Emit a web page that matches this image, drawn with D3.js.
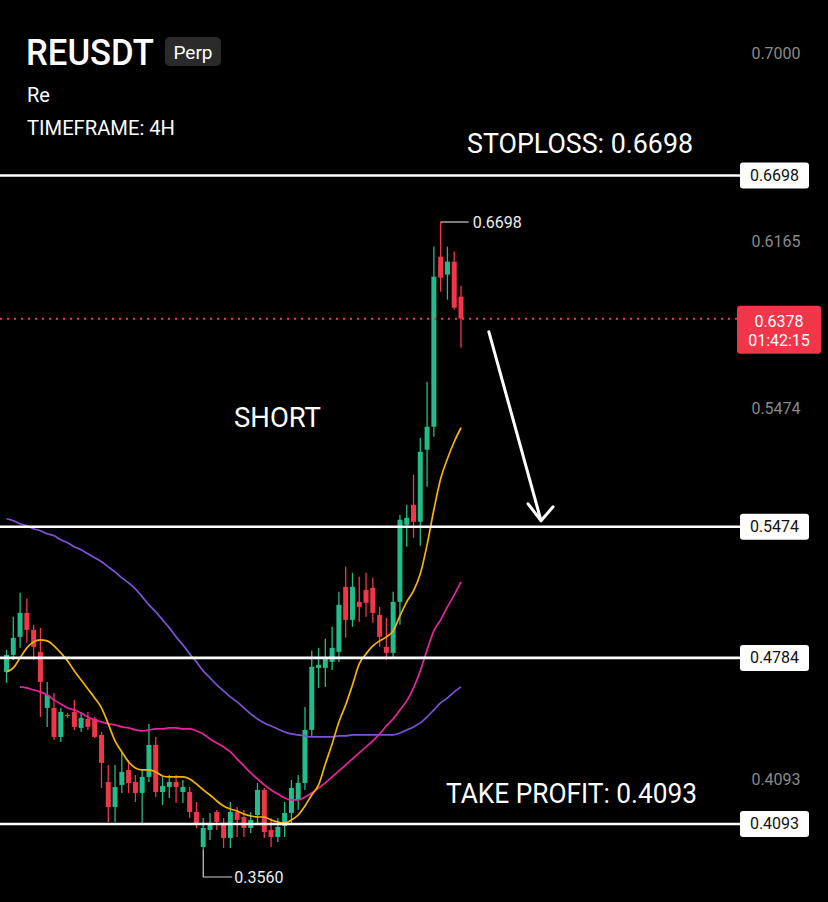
<!DOCTYPE html>
<html>
<head>
<meta charset="utf-8">
<script src="https://cdn.jsdelivr.net/npm/d3@7"></script>
<style>
  body { margin: 0; background: #000; }
  svg { display: block; font-family: Roboto, "DejaVu Sans", sans-serif; }
</style>
</head>
<body>
<svg></svg>
<script>
// candles, 4H
const opens = [0.445,0.4535,0.4625,0.4745,0.466,0.455,0.427,0.427,0.4125,0.4235,
  0.425,0.417,0.4215,0.4215,0.4135,0.39,0.3775,0.3885,0.396,0.39,
  0.3845,0.3925,0.4085,0.385,0.3875,0.39,0.385,0.385,0.375,0.3575,
  0.366,0.375,0.3685,0.362,0.375,0.3725,0.367,0.3735,0.386,0.366,
  0.3625,0.368,0.3745,0.381,0.3895,0.416,0.447,0.447,0.45,0.455,
  0.4875,0.471,0.48,0.486,0.487,0.4735,0.4575,0.4545,0.48,0.5185,
  0.5285,0.52,0.556,0.5675,0.6525,0.6435,0.65,0.6325];
const highs = [0.456,0.4725,0.4845,0.4815,0.4685,0.467,0.44,0.4345,0.427,0.4245,
  0.431,0.425,0.425,0.4225,0.415,0.3985,0.3985,0.405,0.401,0.3935,
  0.396,0.419,0.4125,0.3925,0.3935,0.3935,0.391,0.3875,0.38,0.372,
  0.3745,0.376,0.372,0.38,0.3775,0.376,0.375,0.3895,0.387,0.372,
  0.372,0.38,0.391,0.3935,0.4275,0.4555,0.457,0.4615,0.4675,0.485,
  0.4975,0.4945,0.4925,0.4945,0.492,0.4775,0.472,0.485,0.5235,0.5285,
  0.5435,0.562,0.59,0.6575,0.6698,0.6575,0.655,0.638];
const lows = [0.4395,0.451,0.457,0.4595,0.451,0.4225,0.4175,0.411,0.41,0.422,
  0.416,0.415,0.416,0.412,0.387,0.37,0.37,0.3845,0.3845,0.38,
  0.3695,0.39,0.3825,0.3785,0.382,0.3795,0.3795,0.372,0.367,0.356,
  0.361,0.366,0.357,0.357,0.3625,0.3625,0.3645,0.3685,0.362,0.3575,
  0.36,0.3625,0.3695,0.376,0.386,0.4125,0.437,0.4375,0.446,0.45,
  0.462,0.4675,0.47,0.4725,0.4695,0.4575,0.451,0.4525,0.4685,0.5075,
  0.512,0.508,0.5375,0.5625,0.635,0.631,0.626,0.607];
const closes = [0.4535,0.462,0.4745,0.466,0.4575,0.44,0.4335,0.4125,0.425,0.423,
  0.4175,0.422,0.4175,0.4125,0.3995,0.3775,0.3875,0.395,0.3895,0.3845,
  0.3925,0.4085,0.385,0.388,0.39,0.3875,0.3875,0.375,0.3695,0.367,
  0.3695,0.37,0.362,0.375,0.371,0.367,0.371,0.386,0.365,0.3625,
  0.3675,0.3745,0.387,0.3895,0.416,0.4475,0.4485,0.452,0.457,0.4785,
  0.471,0.4875,0.4775,0.4795,0.4745,0.4625,0.4545,0.48,0.521,0.522,
  0.52,0.555,0.5675,0.6425,0.642,0.65,0.627,0.6215];

// moving averages as drawn (one value per candle)
const maFast = [0.445,0.447,0.452,0.457,0.46,0.461,0.4605,0.458,0.4545,0.4505,
  0.4455,0.441,0.4365,0.432,0.427,0.419,0.4105,0.405,0.4,0.397,
  0.396,0.396,0.395,0.393,0.3925,0.3925,0.3925,0.3915,0.389,0.386,
  0.3835,0.3805,0.378,0.3765,0.3755,0.374,0.373,0.3725,0.3725,0.371,
  0.37,0.3695,0.371,0.3735,0.378,0.3835,0.3885,0.399,0.409,0.42,
  0.4285,0.4385,0.449,0.454,0.458,0.4605,0.4625,0.4655,0.473,0.48,
  0.4855,0.494,0.5085,0.526,0.5415,0.5515,0.56,0.567];
const maMid = [null,null,0.4375,0.437,0.436,0.435,0.4335,0.431,0.429,0.427,
  0.426,0.4245,0.4225,0.421,0.42,0.419,0.4185,0.4175,0.417,0.416,
  0.4155,0.416,0.4165,0.4165,0.417,0.417,0.4165,0.4165,0.4155,0.414,
  0.4115,0.4095,0.4075,0.405,0.4015,0.398,0.3945,0.3915,0.3885,0.386,
  0.384,0.382,0.381,0.381,0.3825,0.3845,0.387,0.3895,0.3925,0.3955,
  0.3985,0.4015,0.4045,0.4075,0.4105,0.414,0.418,0.4215,0.426,0.4305,
  0.437,0.4455,0.456,0.4655,0.471,0.4775,0.4835,0.49];
const maSlow = [0.5215,0.5205,0.519,0.518,0.5165,0.5155,0.514,0.513,0.511,0.5095,
  0.5075,0.506,0.504,0.502,0.5,0.4975,0.495,0.492,0.4895,0.4865,
  0.4825,0.4785,0.475,0.471,0.467,0.4625,0.4585,0.454,0.45,0.4455,
  0.442,0.4385,0.4355,0.4325,0.43,0.427,0.424,0.4215,0.4195,0.418,
  0.4165,0.415,0.414,0.4135,0.413,0.4125,0.4125,0.4125,0.4125,0.413,
  0.413,0.4135,0.4135,0.4135,0.4135,0.4135,0.4135,0.4135,0.4145,0.416,
  0.4175,0.4195,0.4225,0.426,0.4295,0.432,0.435,0.4375];

// drawn levels (where the lines sit) and the text written on them
const levelValues = [0.693, 0.5175, 0.452, 0.369];
const levelLabels = ["0.6698", "0.5474", "0.4784", "0.4093"];
// price axis labels
const axisValues = [0.754, 0.6605, 0.577, 0.3915];
const axisLabels = ["0.7000", "0.6165", "0.5474", "0.4093"];
const lastLabels = ["0.6378", "01:42:15"];
const highText = "0.6698";
const lowText = "0.3560";
// arrow, [candle index, price]
const arrowFrom = [71.1, 0.615];
const arrowTo = [78.8, 0.5205];

const W = 828, H = 902;
const green = "#22bb8b", red = "#f2364a";

const svg = d3.select("svg").attr("width", W).attr("height", H);
svg.append("rect").attr("width", W).attr("height", H).attr("fill", "#000");

const x = d3.scaleLinear().domain([0, opens.length - 1]).range([6.5, 461]);
const y = d3.scaleLinear().domain([0.356, 0.6698]).range([850, 222]);

const candles = opens.map((o, i) => ({ i: i, o: o, h: highs[i], l: lows[i], c: closes[i] }));

// candles
const cg = svg.append("g").attr("class", "candles");
const candle = cg.selectAll("g").data(candles).enter().append("g");
candle.append("line")
  .attr("x1", d => x(d.i)).attr("x2", d => x(d.i))
  .attr("y1", d => y(d.h)).attr("y2", d => y(d.l))
  .attr("stroke", d => d.c >= d.o ? green : red)
  .attr("stroke-width", 1.3);
candle.append("rect")
  .attr("x", d => x(d.i) - 2.5)
  .attr("width", 5)
  .attr("y", d => y(Math.max(d.o, d.c)))
  .attr("height", d => Math.max(1.2, Math.abs(y(d.o) - y(d.c))))
  .attr("fill", d => d.c >= d.o ? green : red);

// moving averages
const maLine = d3.line()
  .defined(d => d != null)
  .x((d, i) => x(i))
  .y(d => y(d))
  .curve(d3.curveMonotoneX);
[[maSlow, "#7e52d8"], [maMid, "#e8239f"], [maFast, "#f6b400"]].forEach(m => {
  svg.append("path")
    .attr("d", maLine(m[0]))
    .attr("fill", "none")
    .attr("stroke", m[1])
    .attr("stroke-width", 1.7);
});

// last price dotted line
const last = closes[closes.length - 1];
svg.append("line")
  .attr("x1", 0).attr("x2", 737)
  .attr("y1", y(last)).attr("y2", y(last))
  .attr("stroke", red).attr("stroke-width", 2)
  .attr("stroke-dasharray", "2,5");

// horizontal levels
const lv = svg.append("g").selectAll("g").data(levelValues).enter().append("g");
lv.append("line")
  .attr("x1", 0).attr("x2", 741)
  .attr("y1", d => y(d)).attr("y2", d => y(d))
  .attr("stroke", "#fff").attr("stroke-width", 2.6);
lv.append("rect")
  .attr("x", 740).attr("y", d => y(d) - 13)
  .attr("width", 69).attr("height", 26).attr("rx", 3)
  .attr("fill", "#fff");
lv.append("text")
  .attr("x", 774.5).attr("y", d => y(d) + 5.5)
  .attr("text-anchor", "middle")
  .attr("font-size", 16).attr("fill", "#111")
  .text((d, i) => levelLabels[i]);

// axis labels
svg.append("g").selectAll("text").data(axisValues).enter().append("text")
  .attr("x", 776).attr("y", d => y(d) + 6)
  .attr("text-anchor", "middle")
  .attr("font-size", 16).attr("fill", "#8a8a8a")
  .text((d, i) => axisLabels[i]);

// last price box
svg.append("rect")
  .attr("x", 737).attr("y", y(last) - 13)
  .attr("width", 84).attr("height", 48).attr("rx", 3)
  .attr("fill", red);
lastLabels.forEach((t, i) => {
  svg.append("text")
    .attr("x", 779).attr("y", y(last) + 8 + i * 19)
    .attr("text-anchor", "middle")
    .attr("font-size", 16).attr("fill", "#fff")
    .text(t);
});

// high / low markers
const hi = d3.maxIndex(highs), lo = d3.minIndex(lows);
svg.append("path")
  .attr("d", `M${x(hi)},${y(highs[hi])}H${x(hi) + 28}`)
  .attr("stroke", "#cfcfcf").attr("stroke-width", 1.2).attr("fill", "none");
svg.append("text")
  .attr("x", x(hi) + 32).attr("y", y(highs[hi]) + 6)
  .attr("font-size", 16).attr("fill", "#eee").text(highText);
svg.append("path")
  .attr("d", `M${x(lo)},${y(lows[lo])}V${y(lows[lo]) + 27}H${x(lo) + 29}`)
  .attr("stroke", "#cfcfcf").attr("stroke-width", 1.2).attr("fill", "none");
svg.append("text")
  .attr("x", x(lo) + 31).attr("y", y(lows[lo]) + 33)
  .attr("font-size", 16).attr("fill", "#eee").text(lowText);

// arrow
const ax1 = x(arrowFrom[0]), ay1 = y(arrowFrom[1]);
const ax2 = x(arrowTo[0]), ay2 = y(arrowTo[1]);
svg.append("path")
  .attr("d", `M${ax1},${ay1}L${ax2},${ay2}M${ax2 - 13},${ay2 - 17}L${ax2},${ay2}L${ax2 + 12},${ay2 - 14}`)
  .attr("stroke", "#fff").attr("stroke-width", 3)
  .attr("stroke-linecap", "round").attr("stroke-linejoin", "round")
  .attr("fill", "none");

// header
svg.append("text").attr("x", 26).attr("y", 65)
  .attr("font-size", 36).attr("font-weight", 500).attr("fill", "#fff")
  .attr("textLength", 128).attr("lengthAdjust", "spacingAndGlyphs")
  .text("REUSDT");
svg.append("rect").attr("x", 165).attr("y", 37).attr("width", 56).attr("height", 29)
  .attr("rx", 5).attr("fill", "#2a2a2a");
svg.append("text").attr("x", 193).attr("y", 59).attr("text-anchor", "middle")
  .attr("font-size", 19).attr("fill", "#fff").text("Perp");
svg.append("text").attr("x", 27).attr("y", 102)
  .attr("font-size", 20).attr("fill", "#fff").text("Re");
svg.append("text").attr("x", 27).attr("y", 135)
  .attr("font-size", 21).attr("fill", "#fff")
  .attr("textLength", 148).attr("lengthAdjust", "spacingAndGlyphs")
  .text("TIMEFRAME: 4H");

// trade notes
const notes = [
  { t: "STOPLOSS: 0.6698", x: 467, y: 153, w: 226 },
  { t: "SHORT", x: 234, y: 427, w: 87 },
  { t: "TAKE PROFIT: 0.4093", x: 446, y: 803, w: 251 }
];
svg.append("g").selectAll("text").data(notes).enter().append("text")
  .attr("x", d => d.x).attr("y", d => d.y)
  .attr("font-size", 28).attr("fill", "#fff")
  .attr("textLength", d => d.w).attr("lengthAdjust", "spacingAndGlyphs")
  .text(d => d.t);
</script>
</body>
</html>
